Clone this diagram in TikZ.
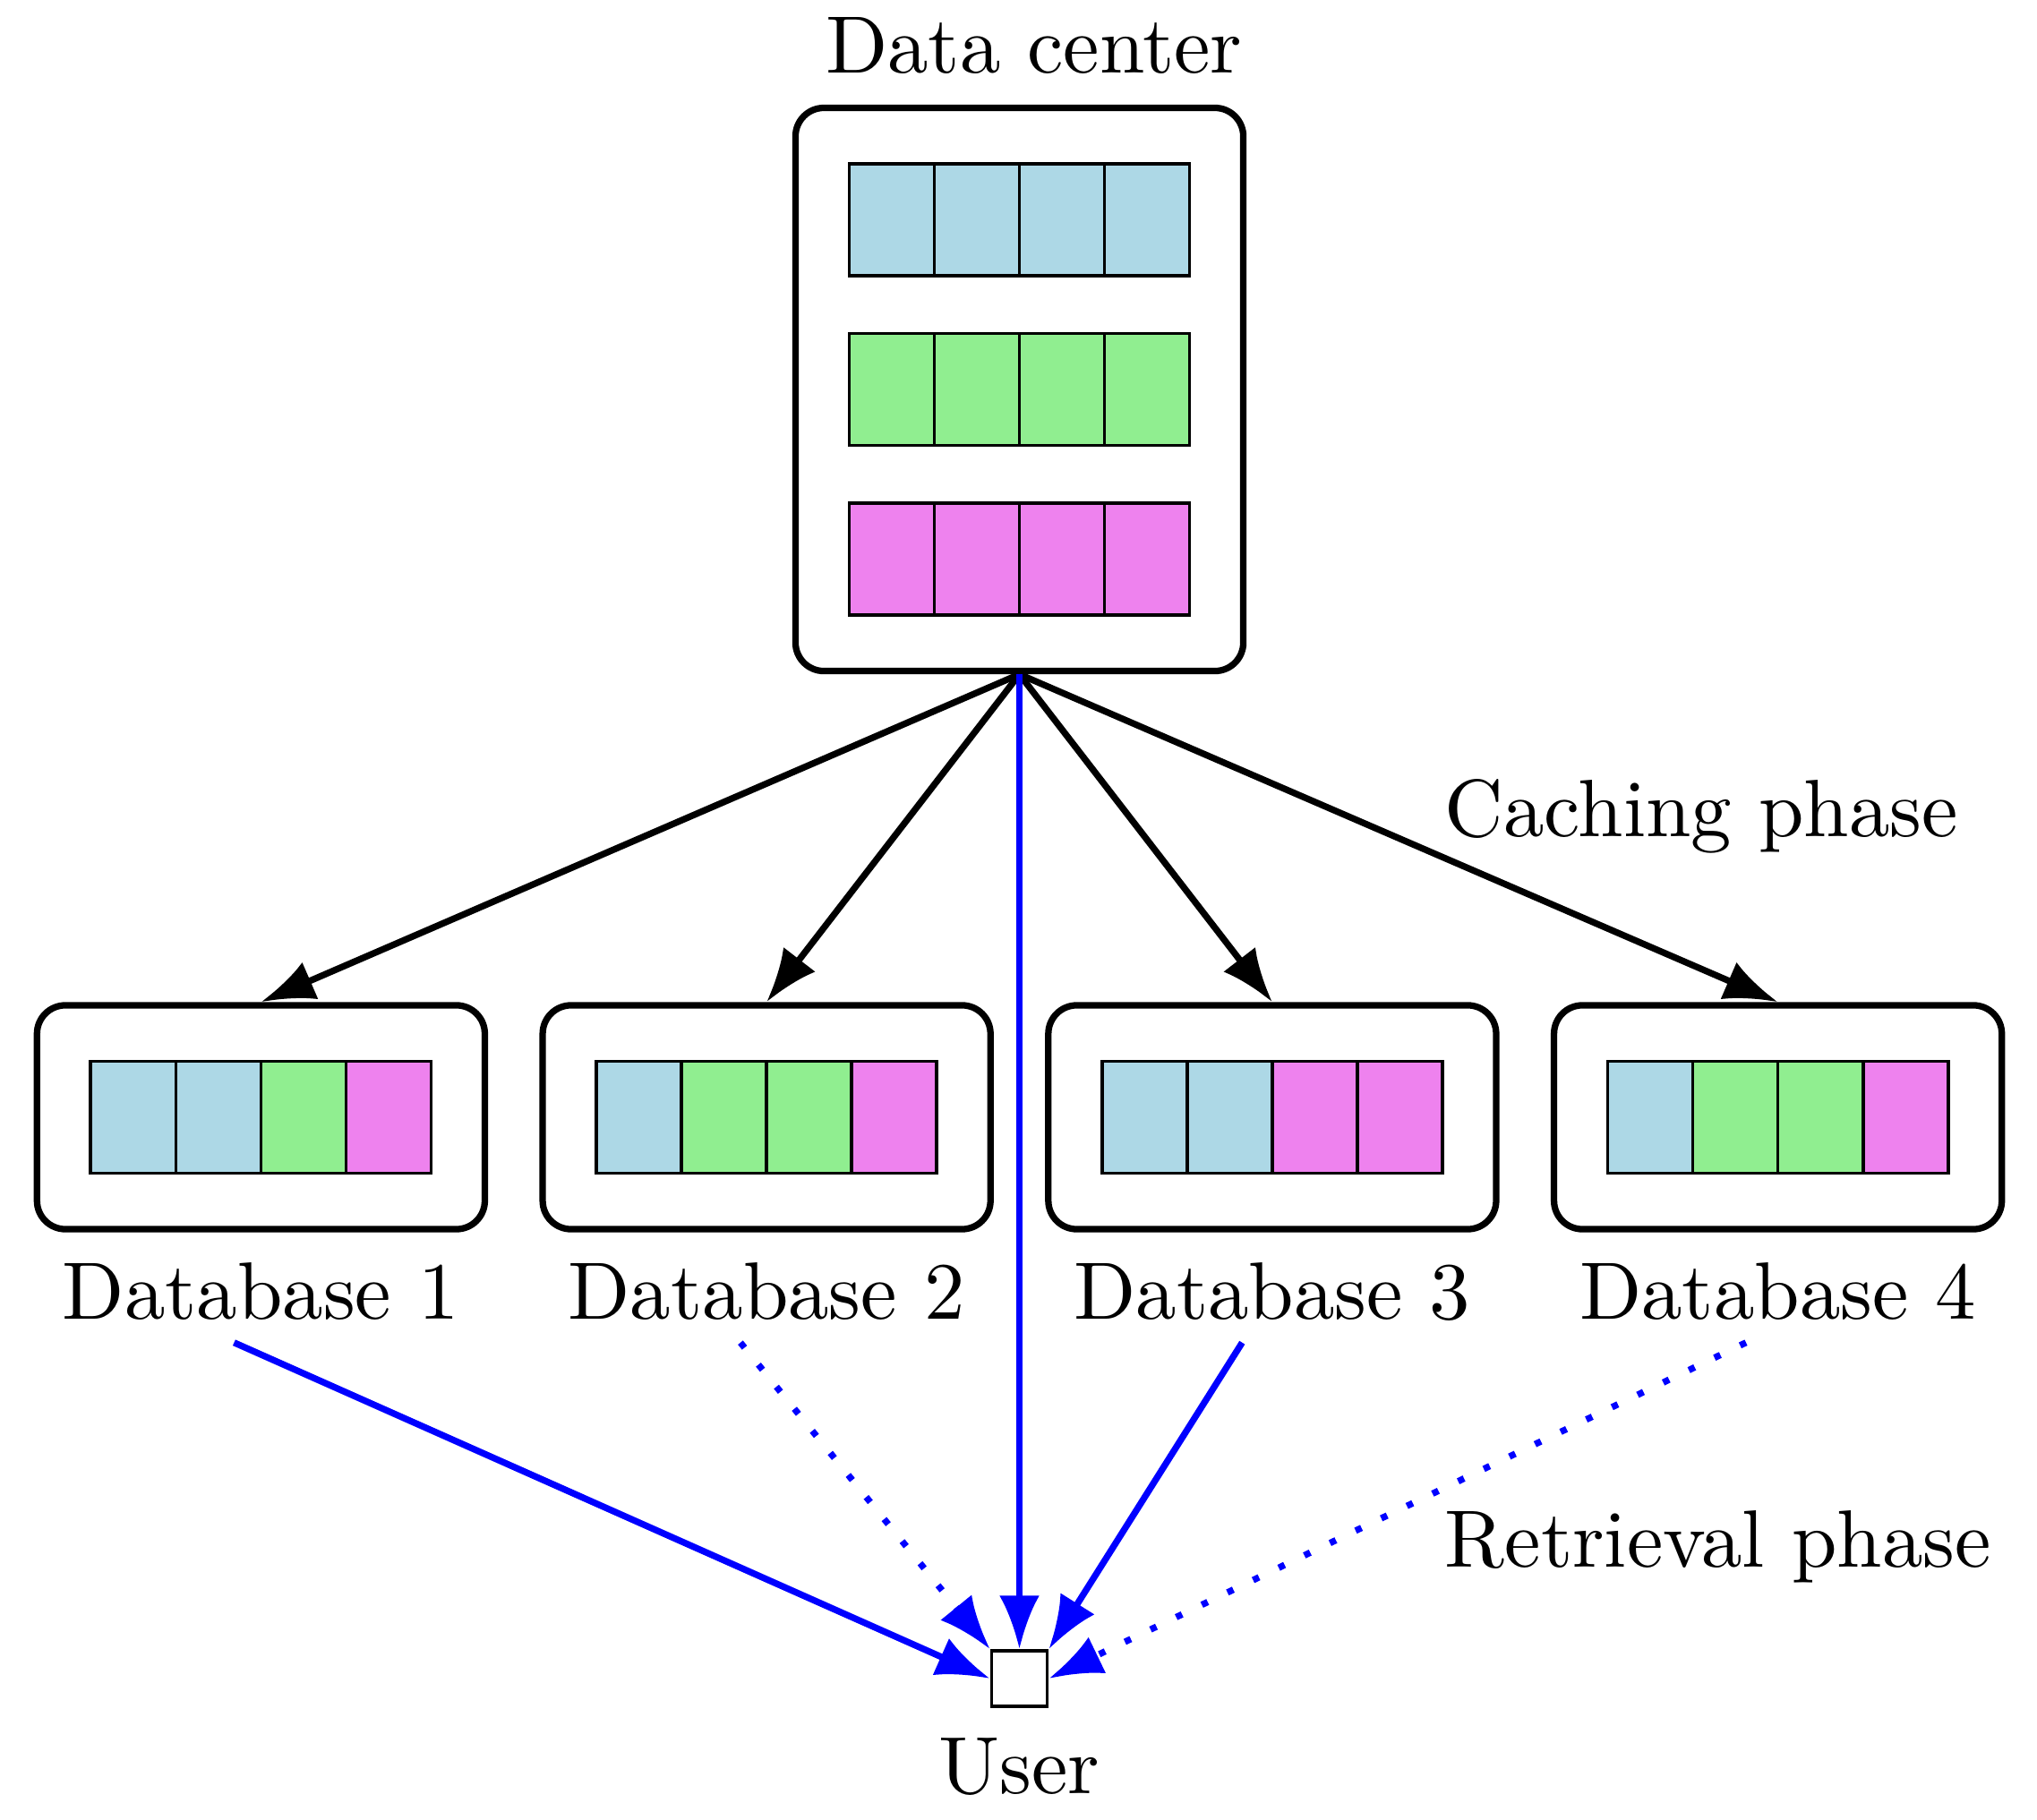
\documentclass[tikz,border=0pt]{standalone}
\usepackage{tikz}
\usetikzlibrary{positioning,fit,arrows.meta}
\definecolor{cblue}{RGB}{173,216,230}
\definecolor{cgreen}{RGB}{144,238,144}
\definecolor{cpink}{RGB}{238,130,238}

\begin{document}
\begin{tikzpicture}[thick, >={Latex},
		cell/.style={draw, thin, inner sep=0pt, outer sep=0pt, minimum width=0.368cm, minimum height=0.484cm},
		store/.style={draw, thick, rounded corners=3.5pt, inner xsep=0.232cm, inner ysep=0.242cm},
		cache/.style={->, thick},
		fetch/.style={->, thick, blue},
		idle/.style={fetch, dash pattern=on 0.8pt off 2.7pt}]

		\useasboundingbox (-4.407,0) rectangle (4.399,-7.869);

		%the data center and its three files
		\foreach \r/\col in {1/cblue,2/cgreen,3/cpink}
			\foreach \c in {1,...,4}
				\node[cell, fill=\col] (f\r\c) at ({(\c-2.5)*0.368}, {-0.9503-(\r-1)*0.7335}) {};
		\node[store, fit=(f11)(f34)] (dc) {};
		\node[above=0pt of dc, xshift=0.063cm] (dclabel) {Data center};

		%the four databases and what they cache
		\foreach \d/\ca/\cb/\cc/\cd in {1/cblue/cblue/cgreen/cpink, 2/cblue/cgreen/cgreen/cpink,
				3/cblue/cblue/cpink/cpink, 4/cblue/cgreen/cgreen/cpink} {
			\coordinate (c\d) at ({(\d-2.5)*2.186}, -4.8306);
			\node[cell, fill=\ca] (d\d1) at ([xshift=-0.552cm]c\d) {};
			\node[cell, fill=\cb, right=0pt of d\d1] (d\d2) {};
			\node[cell, fill=\cc, right=0pt of d\d2] (d\d3) {};
			\node[cell, fill=\cd, right=0pt of d\d3] (d\d4) {};
			\node[store, fit=(d\d1)(d\d4)] (db\d) {};
			\node[below=0pt of db\d] (lbl\d) {Database \d};
		}

		%the user
		\node[draw, thin, minimum size=0.24cm, inner sep=0pt] (user) at (0,-7.2576) {};
		\node[below=0pt of user] (userlabel) {User};

		% caching phase
		\foreach \d in {1,...,4}
			\draw[cache] (dc.south) -- (db\d.north);
		\node[anchor=base west] (caching) at (1.709,-3.619) {Caching phase};

		% retrieval phase
		\coordinate (src1) at (-3.395,-5.805);
		\coordinate (src2) at (-1.206,-5.805);
		\coordinate (src3) at (0.963,-5.805);
		\coordinate (src4) at (3.141,-5.805);
		\draw[fetch] (src1) -- (user.west);
		\draw[idle] (src2) -- (user.north west);
		\draw[fetch] (dc.south) -- (user.north);
		\draw[fetch] (src3) -- (user.north east);
		\draw[idle] (src4) -- (user.east);
		\node[anchor=base west] (retrieval) at (1.709,-6.774) {Retrieval phase};

	\end{tikzpicture}
\end{document}
